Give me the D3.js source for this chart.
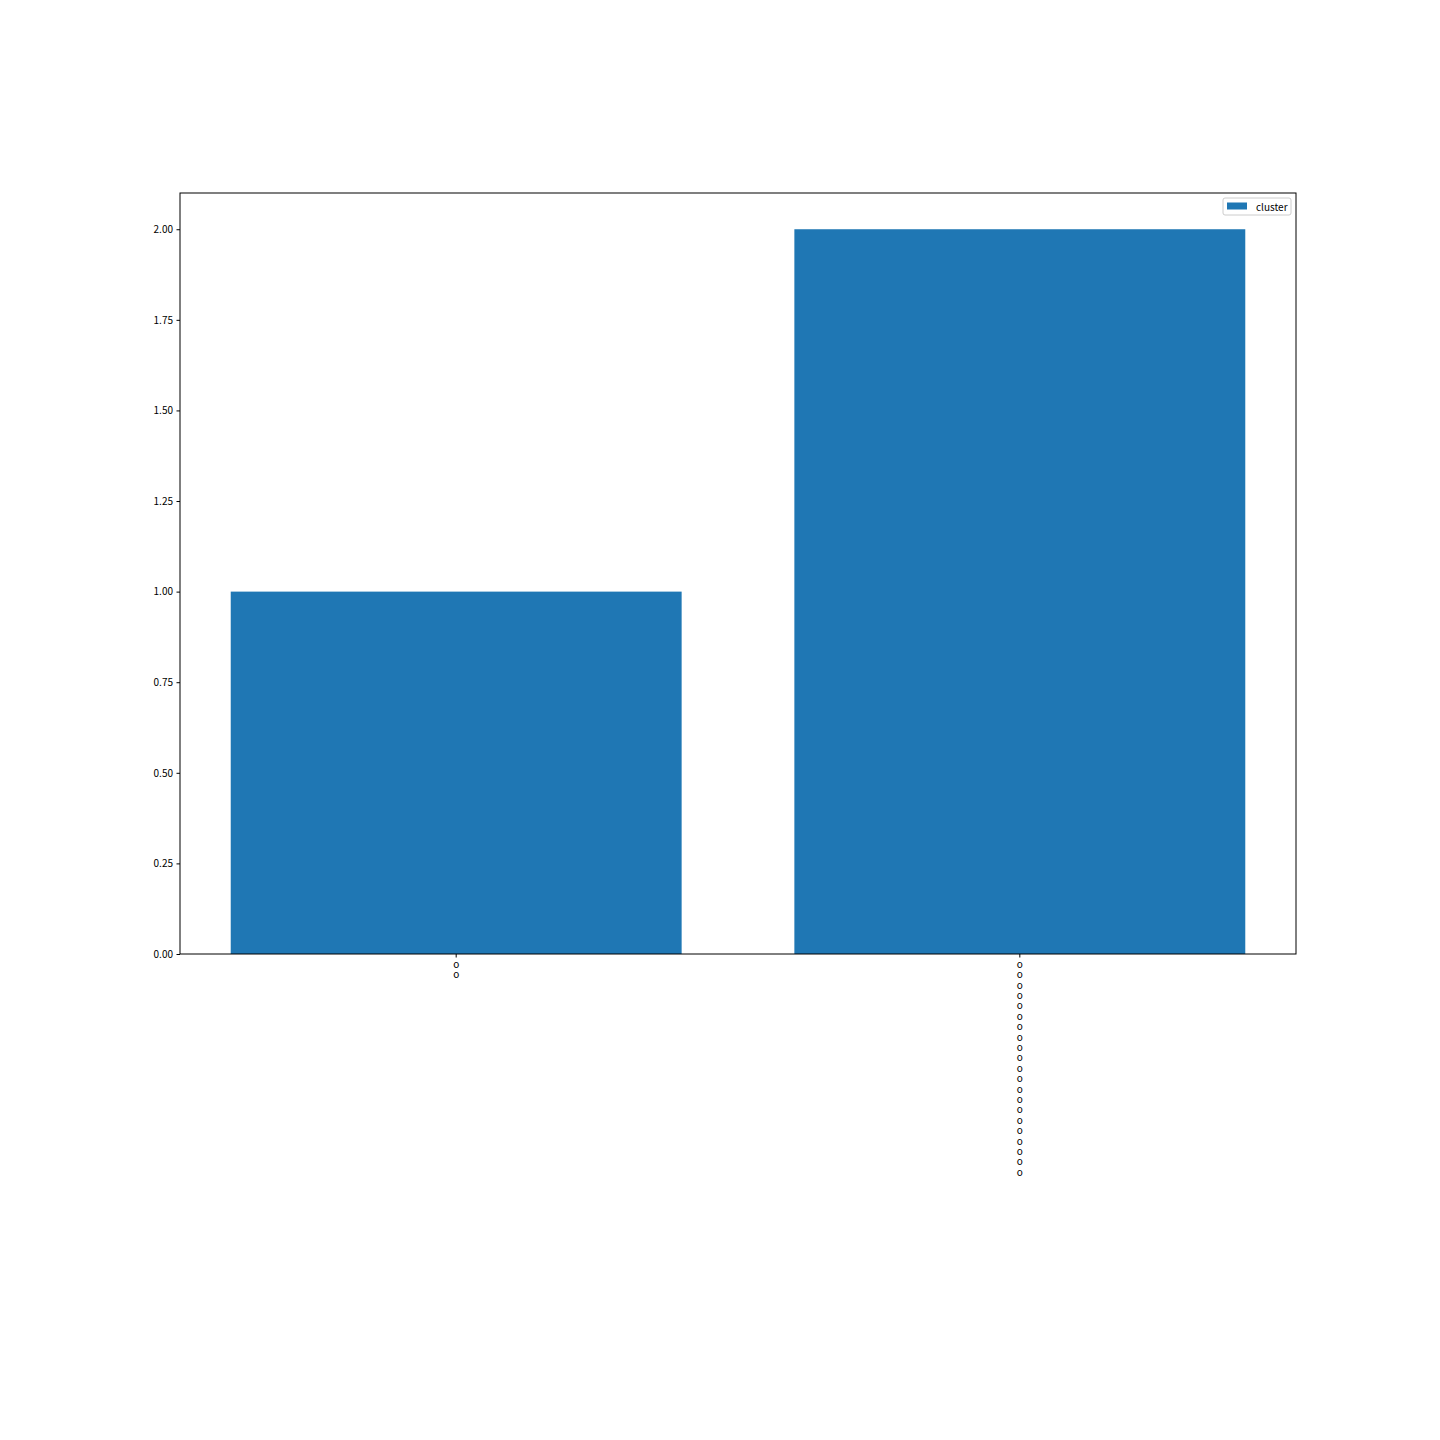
<!DOCTYPE html>
<html lang="en">
<head>
    <meta charset="UTF-8">
    <title>cluster</title>
    <script src="https://cdn.jsdelivr.net/npm/d3@7"></script>
    <style>
        body { margin: 0; background: #fff; }
        text { font-family: "Noto Sans CJK JP", "DejaVu Sans", sans-serif; }
    </style>
</head>
<body>
<svg width="1440" height="1440"></svg>
<script type="text/javascript">
    // データ
    var categories = ["oo", "ooooooooooooooooooooo"];
    var values = [1, 2];
    var yTicks = [0, 0.25, 0.5, 0.75, 1.0, 1.25, 1.5, 1.75, 2.0];
    var seriesName = "cluster";

    var margin = {left: 180, right: 144, top: 193, bottom: 486};
    var width = 1440 - margin.left - margin.right;
    var height = 1440 - margin.top - margin.bottom;
    var lineStep = 10.4;  // 縦書きラベルの行間

    var svg = d3.select("svg");
    var g = svg.append("g")
        .attr("transform", "translate(" + margin.left + "," + margin.top + ")");

    var x = d3.scaleBand()
        .domain(categories)
        .range([0, width])
        .paddingInner(0.2)
        .paddingOuter(0.09);

    var y = d3.scaleLinear()
        .domain([0, 2.1])
        .range([height, 0]);

    // 棒
    g.selectAll("rect.bar")
        .data(values)
        .enter()
        .append("rect")
        .attr("class", "bar")
        .attr("x", function (d, i) { return x(categories[i]); })
        .attr("y", function (d) { return y(d); })
        .attr("width", x.bandwidth())
        .attr("height", function (d) { return height - y(d); })
        .attr("fill", "#1f77b4");

    // y軸
    var yAxis = d3.axisLeft(y)
        .tickValues(yTicks)
        .tickFormat(d3.format(".2f"))
        .tickSizeInner(3.5)
        .tickSizeOuter(0)
        .tickPadding(3.5);
    var gy = g.append("g").call(yAxis);
    gy.select(".domain").remove();
    gy.selectAll("text").attr("font-size", 10).attr("fill", "#000");
    gy.selectAll("line").attr("stroke", "#000");

    // x軸（ラベルは一文字ずつ縦に並べる）
    var xAxis = d3.axisBottom(x)
        .tickSizeInner(3.5)
        .tickSizeOuter(0)
        .tickFormat("");
    var gx = g.append("g")
        .attr("transform", "translate(0," + height + ")")
        .call(xAxis);
    gx.select(".domain").remove();
    gx.selectAll("line").attr("stroke", "#000");
    gx.selectAll(".tick text").remove();
    gx.selectAll(".tick")
        .append("text")
        .attr("font-size", 10)
        .attr("fill", "#000")
        .attr("text-anchor", "middle")
        .each(function (d) {
            var t = d3.select(this);
            d.split("").forEach(function (ch, i) {
                t.append("tspan")
                    .attr("x", 0)
                    .attr("y", 11 + i * lineStep)
                    .attr("dominant-baseline", "middle")
                    .text(ch);
            });
        });

    // 枠
    g.append("rect")
        .attr("width", width)
        .attr("height", height)
        .attr("fill", "none")
        .attr("stroke", "#000")
        .attr("stroke-width", 1);

    // 凡例
    var lg = g.append("g").attr("transform", "translate(" + (width - 73) + ",5)");
    lg.append("rect")
        .attr("width", 68).attr("height", 17)
        .attr("rx", 2)
        .attr("fill", "#fff")
        .attr("stroke", "#ccc");
    lg.append("rect")
        .attr("x", 4).attr("y", 4.5)
        .attr("width", 20).attr("height", 7)
        .attr("fill", "#1f77b4");
    lg.append("text")
        .attr("x", 33).attr("y", 8.5)
        .attr("dominant-baseline", "central")
        .attr("font-size", 10)
        .attr("fill", "#000")
        .text(seriesName);
</script>
</body>
</html>
